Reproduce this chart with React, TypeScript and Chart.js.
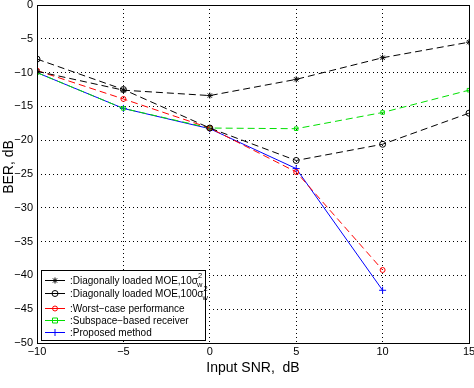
import React, { useEffect, useRef } from "react";
import { Chart, registerables } from "chart.js";

Chart.register(...registerables);

const snr = [-10, -5, 0, 5, 10, 15];
const dlMoe10 = [-9.8, -12.6, -13.4, -11.0, -7.8, -5.5];
const dlMoe100 = [-8.0, -12.5, -18.2, -23.0, -20.6, -16.0];
const worstCase = [-9.7, -13.9, -18.2, -24.7, -39.2];
const subspace = [-10.0, -15.3, -18.2, -18.3, -15.9, -12.6];
const proposed = [-10.0, -15.3, -18.3, -24.2, -42.2];

const legendLabels = [
  ":Diagonally loaded MOE,10σ",
  ":Diagonally loaded MOE,100σ",
  ":Worst\u2212case performance",
  ":Subspace\u2212based receiver",
  ":Proposed method",
];

const FONT = '"Liberation Sans", Arial, Helvetica, sans-serif';

const toPts = (ys: number[]) => ys.map((y, i) => ({ x: snr[i], y }));

function drawMarker(ctx: CanvasRenderingContext2D, style: string, x: number, y: number, r: number, color: string) {
  ctx.save();
  ctx.strokeStyle = color;
  ctx.lineWidth = 1;
  ctx.setLineDash([]);
  ctx.beginPath();
  if (style === "circle") {
    ctx.arc(x, y, r, 0, Math.PI * 2);
  } else if (style === "rect") {
    ctx.rect(x - r, y - r, 2 * r, 2 * r);
  } else if (style === "cross") {
    ctx.moveTo(x - r, y);
    ctx.lineTo(x + r, y);
    ctx.moveTo(x, y - r);
    ctx.lineTo(x, y + r);
  } else if (style === "star") {
    ctx.moveTo(x - r, y);
    ctx.lineTo(x + r, y);
    ctx.moveTo(x, y - r);
    ctx.lineTo(x, y + r);
    const d = r * 0.7;
    ctx.moveTo(x - d, y - d);
    ctx.lineTo(x + d, y + d);
    ctx.moveTo(x - d, y + d);
    ctx.lineTo(x + d, y - d);
  }
  ctx.stroke();
  ctx.restore();
}

const boxPlugin = {
  id: "boxLegend",
  afterDraw(chart: any) {
    const ctx = chart.ctx;
    const a = chart.chartArea;
    ctx.save();
    ctx.strokeStyle = "#000";
    ctx.lineWidth = 1;
    ctx.setLineDash([]);
    ctx.strokeRect(Math.round(a.left) + 0.5, Math.round(a.top) + 0.5, Math.round(a.right - a.left), Math.round(a.bottom - a.top));

    // axis titles
    ctx.fillStyle = "#000";
    ctx.font = `14px ${FONT}`;
    ctx.textAlign = "center";
    ctx.textBaseline = "middle";
    ctx.fillText("Input SNR,  dB", 253, 368);
    ctx.save();
    ctx.translate(9, 167);
    ctx.rotate(-Math.PI / 2);
    ctx.fillText("BER, dB", 0, 0);
    ctx.restore();

    // legend
    const lx = 41, ly = 270, lw = 164, lh = 70;
    ctx.fillStyle = "#fff";
    ctx.fillRect(lx, ly, lw, lh);
    ctx.strokeStyle = "#000";
    ctx.strokeRect(lx + 0.5, ly + 0.5, lw, lh);
    const rows = [280, 293, 308, 320, 332];
    chart.data.datasets.forEach((ds: any, i: number) => {
      const y = rows[i];
      ctx.strokeStyle = ds.borderColor;
      ctx.lineWidth = 1;
      ctx.setLineDash([]);
      ctx.beginPath();
      ctx.moveTo(45, y + 0.5);
      ctx.lineTo(65, y + 0.5);
      ctx.stroke();
      drawMarker(ctx, ds.pointStyle, 55, y + 0.5, ds.pointRadius, ds.borderColor);
      ctx.fillStyle = "#000";
      ctx.font = `10px ${FONT}`;
      ctx.textAlign = "left";
      ctx.textBaseline = "middle";
      const t = legendLabels[i];
      ctx.fillText(t, 70, y + 1);
      if (i < 2) {
        const w = ctx.measureText(t).width;
        ctx.font = `7.5px ${FONT}`;
        ctx.fillText("2", 70 + w, y - 4);
        ctx.fillText("w", 69 + w, y + 5);
      }
    });
    ctx.restore();
  },
};

export default function App() {
  const ref = useRef<HTMLCanvasElement | null>(null);
  useEffect(() => {
    if (!ref.current) return;
    const mk = (data: number[], color: string, style: string, dash: number[], r: number) => ({
      data: toPts(data),
      borderColor: color,
      backgroundColor: "rgba(0,0,0,0)",
      borderWidth: 1,
      borderDash: dash,
      pointStyle: style,
      pointRadius: r,
      pointBorderColor: color,
      pointBackgroundColor: "rgba(0,0,0,0)",
      pointBorderWidth: 1,
      fill: false,
      tension: 0,
    });
    const chart = new Chart(ref.current, {
      type: "line",
      data: {
        datasets: [
          mk(dlMoe10, "#000000", "star", [7, 4], 3),
          mk(dlMoe100, "#000000", "circle", [7, 4], 3),
          mk(worstCase, "#ff0000", "circle", [7, 4], 2.5),
          mk(subspace, "#00e000", "rect", [7, 4], 2.5),
          mk(proposed, "#0000ff", "cross", [], 3.5),
        ] as any,
      },
      options: {
        responsive: false,
        animation: false,
        layout: { padding: { left: 0, right: 4, top: 5, bottom: 0 } },
        plugins: { legend: { display: false }, tooltip: { enabled: false } },
        scales: {
          x: {
            type: "linear",
            min: -10,
            max: 15,
            ticks: {
              stepSize: 5,
              color: "#000",
              font: { family: FONT, size: 11 },
              maxRotation: 0,
              padding: 2,
              callback: (v: any) => String(v).replace("-", "\u2212"),
            },
            grid: { color: "#000", lineWidth: 1, drawTicks: false },
            border: { display: false, dash: [1, 3] },
            afterFit: (s: any) => {
              s.height = 45;
              s.paddingLeft = 0;
              s.paddingRight = 0;
            },
          },
          y: {
            type: "linear",
            min: -50,
            max: 0,
            ticks: {
              stepSize: 5,
              color: "#000",
              font: { family: FONT, size: 11 },
              padding: 4,
              callback: (v: any) => String(v).replace("-", "\u2212"),
            },
            grid: { color: "#000", lineWidth: 1, drawTicks: false },
            border: { display: false, dash: [1, 3] },
            afterFit: (s: any) => {
              s.width = 37;
              s.paddingTop = 0;
              s.paddingBottom = 0;
            },
          },
        },
      } as any,
      plugins: [boxPlugin],
    });
    return () => chart.destroy();
  }, []);
  return (
    <div style={{ position: "absolute", left: 0, top: 0, width: 474, height: 388, background: "#fff" }}>
      <canvas ref={ref} width={474} height={388} />
    </div>
  );
}
